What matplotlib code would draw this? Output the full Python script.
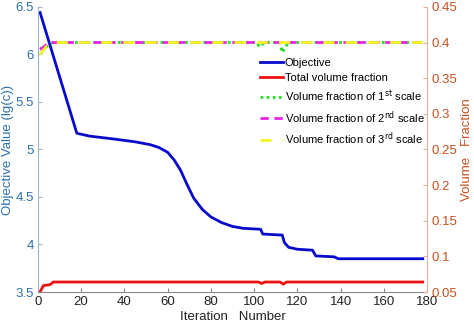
import matplotlib
matplotlib.use("Agg")
import matplotlib.pyplot as plt
from matplotlib.ticker import FuncFormatter

plt.rcParams['font.family'] = ['Liberation Sans', 'DejaVu Sans']

# objective value lg(c) per iteration
obj_it = [1, 18, 24, 35, 45, 52, 56, 60, 63, 66, 69, 72, 76, 80, 85, 90, 95,
          103, 104, 112, 113, 114, 116, 120, 127, 128.5, 137, 139, 178]
obj_val = [6.44, 5.17, 5.14, 5.11, 5.08, 5.05, 5.02, 4.97, 4.89, 4.78, 4.63, 4.49,
           4.37, 4.29, 4.23, 4.19, 4.17, 4.16, 4.11, 4.10, 4.10, 4.02, 3.97, 3.95,
           3.94, 3.88, 3.87, 3.85, 3.85]

# total volume fraction
tot_it = [1, 2.5, 5, 6, 7, 102, 103.5, 105, 112, 113.5, 115, 178]
tot_val = [0.050, 0.059, 0.060, 0.061, 0.064, 0.064, 0.062, 0.064, 0.064, 0.061, 0.064, 0.064]

# volume fraction of each scale
s1_it = [1, 3, 5, 7, 101, 102.5, 104, 105, 112, 113, 114.5, 116, 178]
s1_val = [0.392, 0.392, 0.396, 0.400, 0.400, 0.394, 0.398, 0.400, 0.400, 0.386, 0.394, 0.400, 0.400]
s2_it = [1, 4, 6, 178]
s2_val = [0.390, 0.397, 0.400, 0.400]
s3_it = [1, 4, 6, 178]
s3_val = [0.383, 0.395, 0.400, 0.400]

left_col = '#2a6fb0'
right_col = '#c8501e'

fig = plt.figure(figsize=(4.74, 3.27), dpi=100)
ax = fig.add_axes([0.080, 0.107, 0.821, 0.872])
ax2 = ax.twinx()

l1, = ax.plot(obj_it, obj_val, color='#0a0acd', lw=2, label='Objective')
l2, = ax2.plot(tot_it, tot_val, color='#ee1111', lw=2, label='Total volume fraction')
l3, = ax2.plot(s1_it, s1_val, color='#22dd22', lw=2, ls=(0, (1, 1.2)),
               label='Volume fraction of 1$^{\\rm st}$ scale')
l4, = ax2.plot(s2_it, s2_val, color='#ee22ee', lw=2, ls=(0, (3, 2)),
               label='Volume fraction of 2$^{\\rm nd}$ scale')
l5, = ax2.plot(s3_it, s3_val, color='#f5f522', lw=2, ls=(0, (4, 4)),
               label='Volume fraction of 3$^{\\rm rd}$ scale')

ax.set_xlim(0, 180)
ax.set_ylim(3.5, 6.5)
ax2.set_ylim(0.05, 0.45)
ax.set_xticks(range(0, 181, 20))
ax.set_yticks([3.5, 4, 4.5, 5, 5.5, 6, 6.5])
ax2.set_yticks([0.05, 0.1, 0.15, 0.2, 0.25, 0.3, 0.35, 0.4, 0.45])
ax.yaxis.set_major_formatter(FuncFormatter(lambda v, p: '%g' % v))
ax2.yaxis.set_major_formatter(FuncFormatter(lambda v, p: '%g' % v))

for a in (ax, ax2):
    a.spines['top'].set_visible(False)
    a.patch.set_visible(False)
ax.spines['right'].set_visible(False)
ax.spines['left'].set_color('#9ab8d6')
ax.spines['bottom'].set_color('#888888')
ax2.spines['left'].set_visible(False)
ax2.spines['bottom'].set_visible(False)
ax2.spines['right'].set_color('#e0b49c')
for s in ax.spines.values():
    s.set_linewidth(0.8)
ax2.spines['right'].set_linewidth(0.8)

ax.tick_params(axis='x', direction='in', length=3, labelsize=9.5, colors='#888888',
               labelcolor='#222222', pad=3)
ax.tick_params(axis='y', direction='in', length=3, labelsize=9.5, colors='#9ab8d6',
               labelcolor=left_col, pad=3)
ax2.tick_params(axis='y', direction='in', length=3, labelsize=9.5, colors='#e0b49c',
                labelcolor=right_col, pad=3)

ax.set_xlabel('Iteration   Number', fontsize=9.5, color='#222222', labelpad=2)
ax.set_ylabel('Objective Value (lg(c))', fontsize=9.5, color=left_col, labelpad=1)
ax2.set_ylabel('Volume   Fraction', fontsize=9.5, color=right_col, labelpad=3)

ax2.legend(handles=[l1, l2, l3, l4, l5], loc='upper left', bbox_to_anchor=(0.56, 0.835),
           frameon=False, fontsize=8, handlelength=2.0, handletextpad=0.2,
           labelspacing=0.45, borderaxespad=0)

fig.savefig('out.png', dpi=100)
